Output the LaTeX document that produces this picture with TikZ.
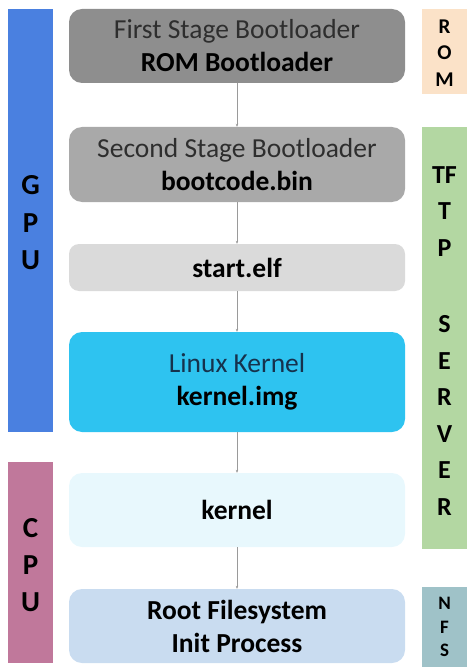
\documentclass[tikz,border=0pt]{standalone}
\usepackage{fontspec}
\setmainfont{Carlito}
\usetikzlibrary{arrows.meta}
\definecolor{cbox1}{HTML}{8E8E8E}
\definecolor{cbox2}{HTML}{A9A9A9}
\definecolor{cbox3}{HTML}{DADADA}
\definecolor{cbox4}{HTML}{2EC3F0}
\definecolor{cbox5}{HTML}{E8F8FD}
\definecolor{cbox6}{HTML}{C9DCF0}
\definecolor{cgpu}{HTML}{4A80E0}
\definecolor{ccpu}{HTML}{C0789B}
\definecolor{crom}{HTML}{FBE2C8}
\definecolor{ctftp}{HTML}{B3D7A2}
\definecolor{cnfs}{HTML}{9FC2C8}
\definecolor{tgray}{HTML}{2E2E2E}
\definecolor{tnavy}{HTML}{16324D}
\definecolor{cline}{HTML}{9A9A9A}
\tikzset{
  stage/.style={rectangle, rounded corners=13pt, minimum width=336pt, inner sep=0pt,
    align=center, font=\fontsize{27.5}{33}\selectfont},
  bar/.style={rectangle, minimum width=45pt, inner sep=0pt, align=center,
    font=\bfseries},
  flow/.style={draw=cline, line width=0.7pt, -{Stealth[length=3pt,width=2.5pt]}}
}
\begin{document}
\begin{tikzpicture}[x=1pt,y=-1pt]
\useasboundingbox (0,0) rectangle (474,671);
% stages
\node[stage, fill=cbox1, minimum height=74pt] (s1) at (237,46)
  {\textcolor{tgray}{First Stage Bootloader}\\\textbf{ROM Bootloader}};
\node[stage, fill=cbox2, minimum height=75pt] (s2) at (237,164.5)
  {\textcolor{tgray}{Second Stage Bootloader}\\\textbf{bootcode.bin}};
\node[stage, fill=cbox3, minimum height=47pt, rounded corners=10pt] (s3) at (237,267.5)
  {\textbf{start.elf}};
\node[stage, fill=cbox4, minimum height=100pt] (s4) at (237,382)
  {\textcolor{tnavy}{Linux Kernel}\\\textbf{kernel.img}};
\node[stage, fill=cbox5, minimum height=74pt] (s5) at (237,510)
  {\textbf{kernel}};
\node[stage, fill=cbox6, minimum height=74pt] (s6) at (237,626)
  {\textbf{Root Filesystem}\\\textbf{Init Process}};
% connectors
\draw[flow] (s1) -- (s2);
\draw[flow] (s2) -- (s3);
\draw[flow] (s3) -- (s4);
\draw[flow] (s4) -- (s5);
\draw[flow] (s5) -- (s6);
% left bars
\node[bar, fill=cgpu, minimum height=423pt] (gpu) at (30.5,220.5) {};
\node[font=\fontsize{29}{37.5}\selectfont\bfseries, align=center] (gput) at (30.5,223) {G\\P\\U};
\node[bar, fill=ccpu, minimum height=201pt] (cpu) at (30.5,562.5) {};
\node[font=\fontsize{29}{37}\selectfont\bfseries, align=center] (cput) at (30.5,565) {C\\P\\U};
% right bars
\node[bar, fill=crom, minimum height=85pt] (rom) at (444.5,51.5) {};
\node[font=\fontsize{21}{26.5}\selectfont\bfseries, align=center] (romt) at (444.5,53) {R\\O\\M};
\node[bar, fill=ctftp, minimum height=422pt] (tftp) at (444.5,338) {};
\node[font=\fontsize{26}{36.5}\selectfont\bfseries, align=center] (tftpt) at (444.5,341)
  {TF\\T\\P\\[40pt]S\\E\\R\\V\\E\\R};
\node[bar, fill=cnfs, minimum height=80pt] (nfs) at (444.5,627) {};
\node[font=\fontsize{19}{23.5}\selectfont\bfseries, align=center] (nfst) at (444.5,627) {N\\F\\S};
\end{tikzpicture}
\end{document}
